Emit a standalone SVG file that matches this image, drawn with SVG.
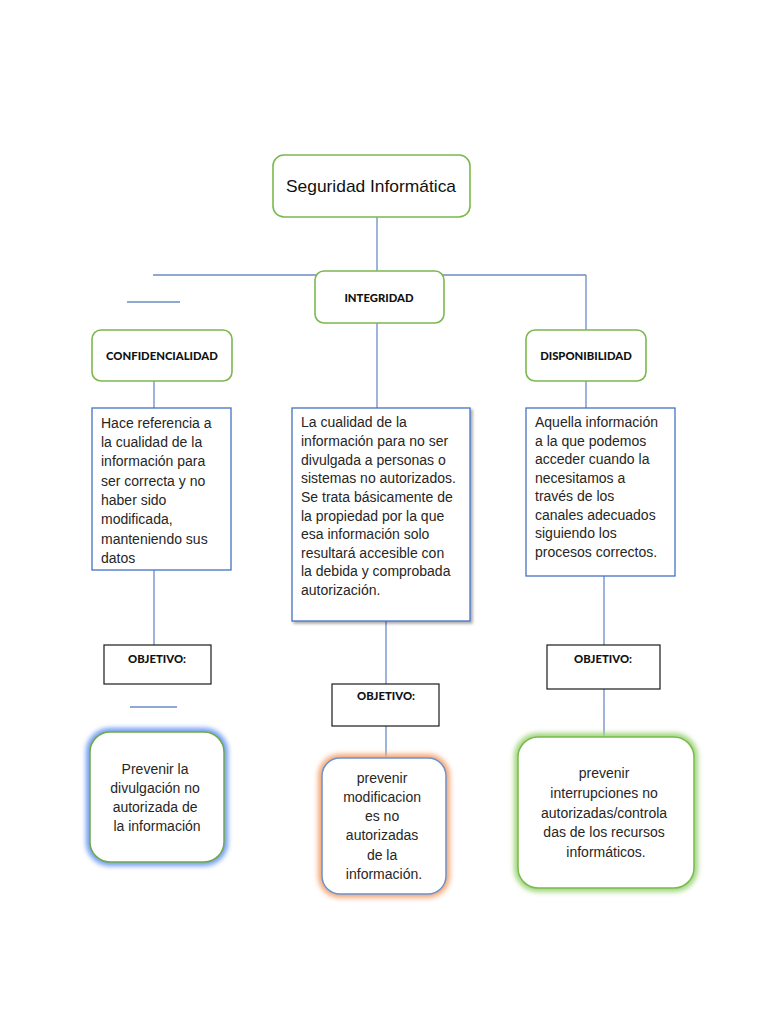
<svg xmlns="http://www.w3.org/2000/svg" width="768" height="1024" viewBox="0 0 768 1024">
<defs>
<style>
.bg{fill:#ffffff}
.conn line{stroke:#6a8cc6;stroke-width:1.3}
.gbox{fill:#ffffff;stroke:#7cb84e;stroke-width:1.6}
.tbox{fill:#ffffff;stroke:#4472c4;stroke-width:1.3}
.obox{fill:#ffffff;stroke:#1a1a1a;stroke-width:1.2}
.body{font-family:"Liberation Sans",Arial,sans-serif;font-size:14px;fill:#262626}
.lbl{font-family:Lato,"Open Sans",sans-serif;font-weight:900;font-size:11.3px;fill:#111111}
.title{font-family:"Liberation Sans",Arial,sans-serif;font-size:17px;fill:#111111}
.mid{text-anchor:middle}
</style>
<filter id="blur" x="-20%" y="-20%" width="140%" height="140%"><feGaussianBlur stdDeviation="2.5"/></filter>
<filter id="shadow" x="-10%" y="-10%" width="130%" height="130%"><feDropShadow dx="2" dy="2" stdDeviation="1.5" flood-color="#000000" flood-opacity="0.35"/></filter>
</defs>
<rect class="bg" x="0" y="0" width="768" height="1024"/>

<g id="connectors" class="conn">
<line x1="377" y1="217" x2="377" y2="271"/>
<line x1="153" y1="275" x2="586" y2="275"/>
<line x1="586" y1="275" x2="586" y2="330"/>
<line x1="127" y1="302" x2="180" y2="302"/>
<line x1="154" y1="381" x2="154" y2="408"/>
<line x1="377" y1="323" x2="377" y2="408"/>
<line x1="586" y1="381" x2="586" y2="408"/>
<line x1="154" y1="570" x2="154" y2="645"/>
<line x1="130" y1="707" x2="177" y2="707"/>
<line x1="386" y1="621" x2="386" y2="684"/>
<line x1="386" y1="726" x2="386" y2="758"/>
<line x1="604" y1="576" x2="604" y2="645"/>
<line x1="604" y1="689" x2="604" y2="737"/>
</g>

<g id="title">
<rect class="gbox" x="273" y="155" width="197" height="62" rx="11"/>
<text class="title mid" x="371" y="192" textLength="170" lengthAdjust="spacingAndGlyphs">Seguridad Informática</text>
</g>

<g id="integridad">
<rect class="gbox" x="315" y="271" width="129" height="52" rx="9"/>
<text class="lbl mid" x="379" y="302">INTEGRIDAD</text>
</g>

<g id="confidencialidad">
<rect class="gbox" x="92" y="330" width="140" height="51" rx="9"/>
<text class="lbl mid" x="162" y="360">CONFIDENCIALIDAD</text>
</g>

<g id="disponibilidad">
<rect class="gbox" x="526" y="330" width="120" height="51" rx="9"/>
<text class="lbl mid" x="586" y="360">DISPONIBILIDAD</text>
</g>

<g id="def-confidencialidad">
<rect class="tbox" x="92" y="408" width="139" height="162"/>
<text class="body" x="101">
<tspan x="101" y="428">Hace referencia a</tspan>
<tspan x="101" y="447">la cualidad de la</tspan>
<tspan x="101" y="466">información para</tspan>
<tspan x="101" y="486">ser correcta y no</tspan>
<tspan x="101" y="505">haber sido</tspan>
<tspan x="101" y="524">modificada,</tspan>
<tspan x="101" y="544">manteniendo sus</tspan>
<tspan x="101" y="563">datos</tspan>
</text>
</g>

<g id="def-integridad">
<rect class="tbox" x="292" y="408" width="178" height="213" filter="url(#shadow)"/>
<text class="body" x="301">
<tspan x="301" y="427">La cualidad de la</tspan>
<tspan x="301" y="446">información para no ser</tspan>
<tspan x="301" y="465">divulgada a personas o</tspan>
<tspan x="301" y="483">sistemas no autorizados.</tspan>
<tspan x="301" y="502">Se trata básicamente de</tspan>
<tspan x="301" y="521">la propiedad por la que</tspan>
<tspan x="301" y="539">esa información solo</tspan>
<tspan x="301" y="558">resultará accesible con</tspan>
<tspan x="301" y="576">la debida y comprobada</tspan>
<tspan x="301" y="595">autorización.</tspan>
</text>
</g>

<g id="def-disponibilidad">
<rect class="tbox" x="526" y="408" width="149" height="168"/>
<text class="body" x="535">
<tspan x="535" y="427">Aquella información</tspan>
<tspan x="535" y="446">a la que podemos</tspan>
<tspan x="535" y="464">acceder cuando la</tspan>
<tspan x="535" y="483">necesitamos a</tspan>
<tspan x="535" y="501">través de los</tspan>
<tspan x="535" y="520">canales adecuados</tspan>
<tspan x="535" y="538">siguiendo los</tspan>
<tspan x="535" y="557">procesos correctos.</tspan>
</text>
</g>

<g id="objetivo-1">
<rect class="obox" x="104" y="645" width="107" height="39"/>
<text class="lbl mid" x="157" y="663">OBJETIVO:</text>
</g>

<g id="objetivo-2">
<rect class="obox" x="332" y="684" width="107" height="42"/>
<text class="lbl mid" x="386" y="700">OBJETIVO:</text>
</g>

<g id="objetivo-3">
<rect class="obox" x="547" y="645" width="113" height="44"/>
<text class="lbl mid" x="603" y="663">OBJETIVO:</text>
</g>

<g id="meta-confidencialidad">
<rect x="90" y="732" width="134" height="130" rx="20" fill="none" stroke="#6f9cf0" stroke-width="8" filter="url(#blur)"/>
<rect x="90" y="732" width="134" height="130" rx="20" fill="#ffffff" stroke="#6fa94a" stroke-width="1.5"/>
<text class="body mid" x="157">
<tspan x="157" y="774">Prevenir la</tspan>
<tspan x="157" y="793">divulgación no</tspan>
<tspan x="157" y="812">autorizada de</tspan>
<tspan x="157" y="831">la información</tspan>
</text>
</g>

<g id="meta-integridad">
<rect x="322" y="758" width="124" height="136" rx="18" fill="none" stroke="#f4a878" stroke-width="8" filter="url(#blur)"/>
<rect x="322" y="758" width="124" height="136" rx="18" fill="#ffffff" stroke="#6b93cc" stroke-width="1.5"/>
<text class="body mid" x="384">
<tspan x="384" y="783">prevenir</tspan>
<tspan x="384" y="802">modificacion</tspan>
<tspan x="384" y="821">es no</tspan>
<tspan x="384" y="840">autorizadas</tspan>
<tspan x="384" y="860">de la</tspan>
<tspan x="384" y="879">información.</tspan>
</text>
</g>

<g id="meta-disponibilidad">
<rect x="518" y="737" width="176" height="151" rx="20" fill="none" stroke="#a2d67f" stroke-width="8" filter="url(#blur)"/>
<rect x="518" y="737" width="176" height="151" rx="20" fill="#ffffff" stroke="#78bb4a" stroke-width="1.5"/>
<text class="body mid" x="606">
<tspan x="606" y="778">prevenir</tspan>
<tspan x="606" y="798">interrupciones no</tspan>
<tspan x="606" y="818">autorizadas/controla</tspan>
<tspan x="606" y="837">das de los recursos</tspan>
<tspan x="606" y="857">informáticos.</tspan>
</text>
</g>
</svg>
